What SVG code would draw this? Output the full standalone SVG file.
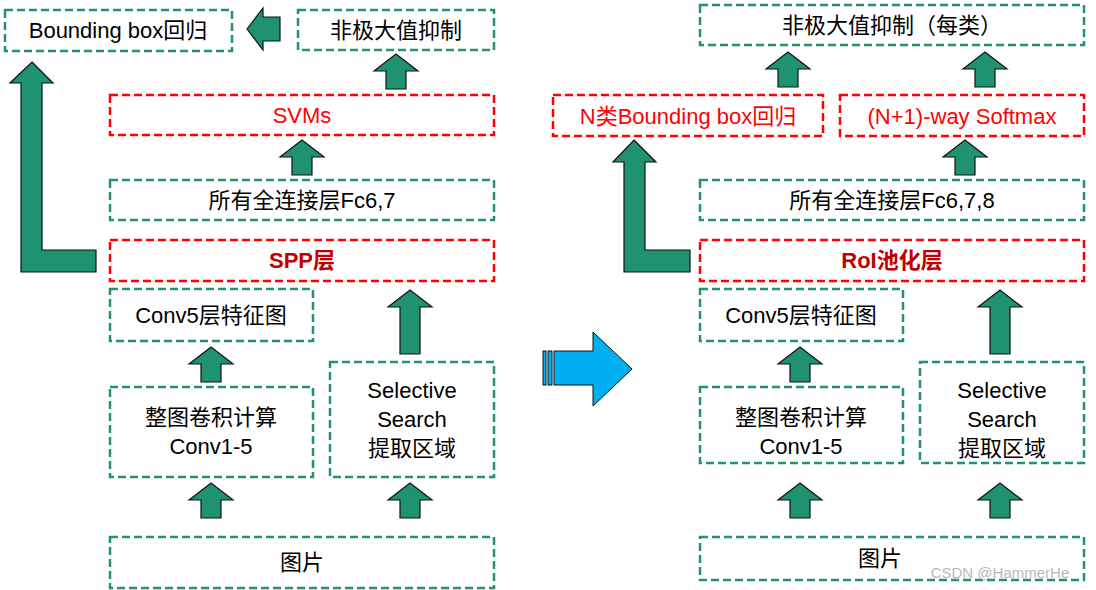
<svg xmlns="http://www.w3.org/2000/svg" width="1096" height="590" viewBox="0 0 1096 590">
<style>
.g{fill:#fff;stroke:#23936f;stroke-width:2.5;stroke-dasharray:8,4}
.r{fill:#fff;stroke:#f00;stroke-width:2.5;stroke-dasharray:8,4}
.a{fill:#1f9271;stroke:#111;stroke-width:1.2}
text{font-family:"Liberation Sans","Noto Sans CJK SC",sans-serif;font-size:22px;text-anchor:middle;fill:#000}
.rt{fill:#f00}.bt{fill:#c00000;font-weight:bold}
</style>
<defs>
<path id="up" class="a" d="M-22,17 L0,0 L22,17 L10,17 L10,35 L-10,35 L-10,17 Z"/>
<path id="upl" class="a" d="M-22,17 L0,0 L22,17 L10,17 L10,64 L-10,64 L-10,17 Z"/>
</defs>
<g id="connectors">
<path class="a" d="M247,29 L263,8 L263,17 L280,17 L280,41 L263,41 L263,50 Z"/>
<use href="#up" x="396" y="54"/>
<use href="#up" x="302" y="140"/>
<use href="#up" x="211" y="347"/>
<use href="#upl" x="410" y="290"/>
<use href="#up" x="211" y="483" transform="translate(0,0)"/>
<use href="#up" x="410" y="483"/>
<path class="a" d="M32,62 L53,83 L42,83 L42,250 L96,250 L96,272 L21,272 L21,83 L10,83 Z"/>
<use href="#up" x="788" y="52"/>
<use href="#up" x="985" y="52"/>
<use href="#up" x="965" y="140"/>
<use href="#up" x="800" y="347"/>
<use href="#upl" x="1000" y="290"/>
<use href="#up" x="800" y="483"/>
<use href="#up" x="1000" y="483"/>
<path class="a" d="M634,140 L656,162 L645,162 L645,250 L690,250 L690,272 L624,272 L624,162 L613,162 Z"/>
<g fill="#00b0f0" stroke="#111" stroke-width="1">
<rect x="543" y="351" width="3" height="34"/><rect x="548" y="351" width="4" height="34"/>
<path d="M554,351 L593,351 L593,332 L632,369 L593,406 L593,385 L554,385 Z"/>
</g>
</g>
<g id="n1"><rect class="g" x="5" y="10" width="227" height="41"/><text x="118" y="38">Bounding box回归</text></g>
<g id="n2"><rect class="g" x="298" y="10" width="196" height="40"/><text x="396" y="38">非极大值抑制</text></g>
<g id="n3"><rect class="r" x="110" y="95" width="384" height="40"/><text class="rt" x="302" y="123">SVMs</text></g>
<g id="n4"><rect class="g" x="110" y="180" width="384" height="40"/><text x="302" y="208">所有全连接层Fc6,7</text></g>
<g id="n5"><rect class="r" x="110" y="240" width="384" height="41"/><text class="bt" x="302" y="268">SPP层</text></g>
<g id="n6"><rect class="g" x="110" y="289" width="203" height="52"/><text x="211" y="323">Conv5层特征图</text></g>
<g id="n7"><rect class="g" x="110" y="387" width="203" height="90"/><text x="211" y="425">整图卷积计算</text><text x="211" y="454">Conv1-5</text></g>
<g id="n8"><rect class="g" x="330" y="362" width="164" height="115"/><text x="412" y="398">Selective</text><text x="412" y="427">Search</text><text x="412" y="456">提取区域</text></g>
<g id="n9"><rect class="g" x="110" y="537" width="384" height="51"/><text x="302" y="570">图片</text></g>
<g id="m1"><rect class="g" x="700" y="5" width="384" height="40"/><text x="892" y="33">非极大值抑制（每类）</text></g>
<g id="m2"><rect class="r" x="553" y="95" width="270" height="41"/><text class="rt" x="688" y="124">N类Bounding box回归</text></g>
<g id="m3"><rect class="r" x="840" y="95" width="244" height="41"/><text class="rt" x="962" y="124">(N+1)-way Softmax</text></g>
<g id="m4"><rect class="g" x="700" y="180" width="384" height="40"/><text x="892" y="208">所有全连接层Fc6,7,8</text></g>
<g id="m5"><rect class="r" x="700" y="240" width="384" height="41"/><text class="bt" x="892" y="268">RoI池化层</text></g>
<g id="m6"><rect class="g" x="700" y="289" width="203" height="52"/><text x="801" y="323">Conv5层特征图</text></g>
<g id="m7"><rect class="g" x="700" y="387" width="203" height="76"/><text x="801" y="425">整图卷积计算</text><text x="801" y="454">Conv1-5</text></g>
<g id="m8"><rect class="g" x="920" y="362" width="164" height="101"/><text x="1002" y="398">Selective</text><text x="1002" y="427">Search</text><text x="1002" y="456">提取区域</text></g>
<g id="m9"><rect class="g" x="700" y="537" width="384" height="43"/><text x="880" y="566">图片</text></g>
<text x="1000" y="578" style="font-size:15px;fill:#b8b8b8">CSDN @HammerHe</text>
</svg>
